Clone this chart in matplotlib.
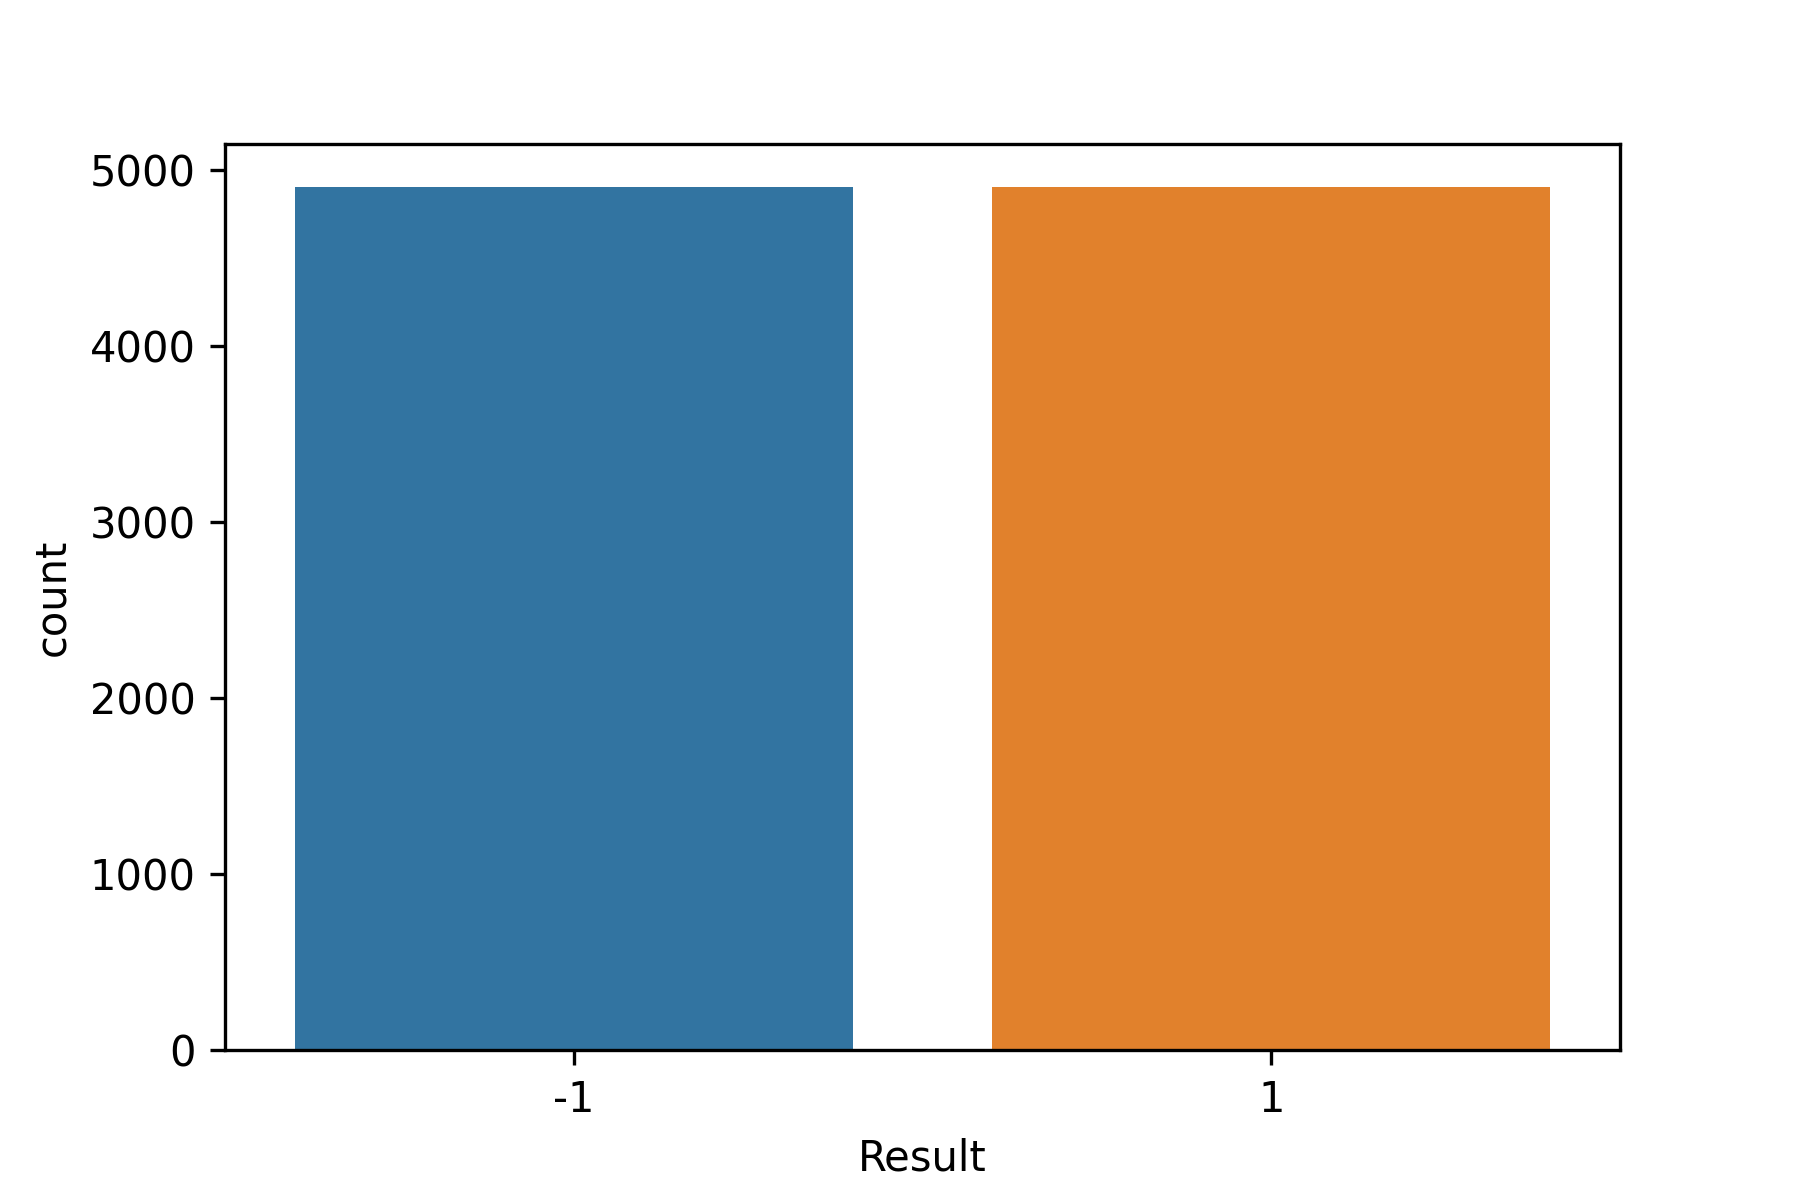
import matplotlib
matplotlib.use("Agg")
import matplotlib.pyplot as plt

categories = ["-1", "1"]
counts = [4903, 4903]
colors = ["#3274a1", "#e1812c"]

fig = plt.figure(figsize=(6, 4), dpi=300)
ax = fig.add_axes([0.125, 0.125, 0.775, 0.755])
x = list(range(len(categories)))
ax.bar(x, counts, width=0.8, color=colors)
ax.set_xticks(x)
ax.set_xticklabels(categories)
ax.set_xlim(-0.5, len(categories) - 0.5)
ax.set_ylim(0, max(counts) * 1.05)
ax.set_xlabel("Result")
ax.set_ylabel("count")
fig.savefig("out.png", dpi=300)
